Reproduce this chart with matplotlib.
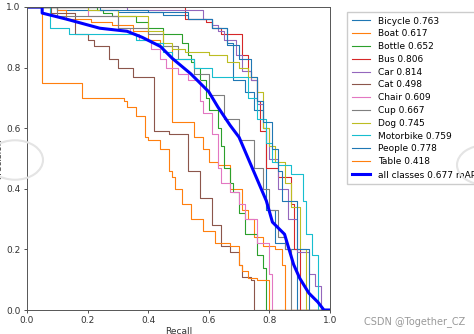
import matplotlib
matplotlib.use('Agg')
import matplotlib.pyplot as plt
from matplotlib.patches import Circle

names = ['Bicycle', 'Boat', 'Bottle', 'Bus', 'Car', 'Cat', 'Chair', 'Cup',
         'Dog', 'Motorbike', 'People', 'Table']
ap = [0.763, 0.617, 0.652, 0.806, 0.814, 0.498, 0.609, 0.667,
      0.745, 0.759, 0.778, 0.418]
map50 = 0.677

# points (recall, precision), last two points = drop to zero
bicycle_r = [0, 0.10, 0.30, 0.45, 0.53, 0.61, 0.66, 0.68, 0.72, 0.75, 0.78, 0.79, 0.82, 0.85, 0.89, 1.0]
bicycle_p = [1, 0.99, 0.985, 0.975, 0.96, 0.93, 0.88, 0.76, 0.72, 0.66, 0.60, 0.33, 0.22, 0.20, 0, 0]
boat_r = [0, 0.10, 0.13, 0.21, 0.28, 0.35, 0.40, 0.44, 0.48, 0.50, 0.55, 0.58, 0.60, 0.63, 0.67, 0.71, 0.73, 0.75, 0.78, 0.82, 0.84, 0.85, 1.0]
boat_p = [1, 0.99, 0.96, 0.95, 0.94, 0.92, 0.89, 0.87, 0.62, 0.62, 0.57, 0.53, 0.49, 0.48, 0.40, 0.33, 0.30, 0.24, 0.21, 0.20, 0.15, 0, 0]
bottle_r = [0, 0.23, 0.25, 0.28, 0.36, 0.40, 0.45, 0.48, 0.51, 0.53, 0.54, 0.55, 0.57, 0.59, 0.60, 0.63, 0.64, 0.65, 0.67, 0.68, 0.70, 0.72, 0.76, 0.78, 0.79, 1.0]
bottle_p = [1, 0.99, 0.98, 0.97, 0.95, 0.93, 0.91, 0.91, 0.88, 0.84, 0.82, 0.80, 0.76, 0.70, 0.66, 0.60, 0.54, 0.47, 0.42, 0.39, 0.32, 0.25, 0.18, 0.14, 0, 0]
bus_r = [0, 0.52, 0.59, 0.61, 0.64, 0.66, 0.71, 0.73, 0.74, 0.76, 0.77, 0.79, 0.83, 0.84, 0.87, 0.88, 0.90, 1.0]
bus_p = [1, 0.96, 0.95, 0.93, 0.91, 0.91, 0.84, 0.79, 0.76, 0.69, 0.59, 0.47, 0.44, 0.44, 0.35, 0.20, 0, 0]
car_r = [0, 0.33, 0.52, 0.58, 0.61, 0.63, 0.65, 0.69, 0.71, 0.74, 0.76, 0.78, 0.80, 0.83, 0.86, 0.89, 0.93, 0.95, 0.97, 1.0]
car_p = [1, 0.99, 0.99, 0.96, 0.94, 0.92, 0.89, 0.84, 0.79, 0.76, 0.68, 0.60, 0.50, 0.40, 0.30, 0.19, 0.12, 0.08, 0, 0]
cat_r = [0, 0.08, 0.16, 0.20, 0.22, 0.27, 0.30, 0.35, 0.39, 0.42, 0.47, 0.53, 0.53, 0.57, 0.61, 0.64, 0.67, 0.70, 0.71, 0.74, 0.75, 1.0]
cat_p = [1, 0.98, 0.91, 0.89, 0.87, 0.83, 0.80, 0.77, 0.77, 0.59, 0.58, 0.54, 0.46, 0.37, 0.28, 0.21, 0.19, 0.15, 0.11, 0.10, 0, 0]
chair_r = [0, 0.20, 0.30, 0.34, 0.37, 0.41, 0.44, 0.46, 0.50, 0.53, 0.57, 0.58, 0.61, 0.63, 0.64, 0.67, 0.70, 0.72, 0.76, 0.80, 0.81, 1.0]
chair_p = [1, 0.97, 0.93, 0.91, 0.89, 0.86, 0.83, 0.80, 0.78, 0.76, 0.69, 0.65, 0.58, 0.47, 0.42, 0.39, 0.35, 0.30, 0.22, 0.12, 0, 0]
cup_r = [0, 0.10, 0.30, 0.40, 0.45, 0.50, 0.55, 0.60, 0.65, 0.70, 0.75, 0.78, 0.80, 0.83, 0.85, 0.87, 1.0]
cup_p = [1, 0.97, 0.93, 0.91, 0.87, 0.83, 0.78, 0.71, 0.63, 0.56, 0.47, 0.40, 0.33, 0.24, 0.20, 0, 0]
dog_r = [0, 0.20, 0.30, 0.40, 0.45, 0.48, 0.52, 0.60, 0.66, 0.70, 0.73, 0.76, 0.78, 0.80, 0.82, 0.85, 0.87, 0.90, 0.92, 1.0]
dog_p = [1, 0.99, 0.97, 0.92, 0.88, 0.86, 0.85, 0.84, 0.82, 0.80, 0.77, 0.72, 0.60, 0.54, 0.49, 0.42, 0.34, 0.20, 0, 0]
motorbike_r = [0, 0.076, 0.14, 0.36, 0.41, 0.45, 0.48, 0.55, 0.61, 0.73, 0.76, 0.79, 0.81, 0.83, 0.87, 0.91, 0.92, 0.94, 0.96, 1.0]
motorbike_p = [1, 0.93, 0.91, 0.89, 0.88, 0.85, 0.83, 0.80, 0.77, 0.70, 0.63, 0.55, 0.49, 0.48, 0.45, 0.36, 0.25, 0.18, 0, 0]
people_r = [0, 0.24, 0.40, 0.53, 0.61, 0.66, 0.70, 0.74, 0.76, 0.78, 0.81, 0.83, 0.84, 0.89, 0.93, 1.0]
people_p = [1, 0.99, 0.985, 0.96, 0.93, 0.875, 0.83, 0.77, 0.69, 0.62, 0.53, 0.46, 0.36, 0.20, 0, 0]
table_r = [0, 0.05, 0.18, 0.32, 0.33, 0.36, 0.39, 0.40, 0.44, 0.47, 0.48, 0.49, 0.51, 0.54, 0.58, 0.62, 0.67, 0.70, 0.71, 0.73, 0.76, 0.80, 1.0]
table_p = [1, 0.75, 0.70, 0.69, 0.67, 0.64, 0.57, 0.56, 0.53, 0.46, 0.44, 0.40, 0.35, 0.30, 0.26, 0.22, 0.21, 0.15, 0.13, 0.105, 0.10, 0, 0]

mean_r = [0, 0.05, 0.05, 0.13, 0.24, 0.33, 0.38, 0.44, 0.48, 0.54, 0.60, 0.63, 0.67, 0.70, 0.73, 0.76,
          0.79, 0.81, 0.85, 0.88, 0.90, 0.93, 0.96, 0.98, 1.0]
mean_p = [1, 1, 0.98, 0.96, 0.93, 0.92, 0.90, 0.87, 0.83, 0.78, 0.72, 0.67, 0.61, 0.57, 0.50, 0.43,
          0.36, 0.29, 0.25, 0.15, 0.105, 0.056, 0.026, 0, 0]

curves = [(bicycle_r, bicycle_p), (boat_r, boat_p), (bottle_r, bottle_p), (bus_r, bus_p),
          (car_r, car_p), (cat_r, cat_p), (chair_r, chair_p), (cup_r, cup_p),
          (dog_r, dog_p), (motorbike_r, motorbike_p), (people_r, people_p), (table_r, table_p)]
colors = ['#1f77b4', '#ff7f0e', '#2ca02c', '#d62728', '#9467bd',
          '#8c564b', '#e377c2', '#7f7f7f', '#bcbd22', '#17becf']

W, H = 474, 334
fig = plt.figure(figsize=(W / 100, H / 100), dpi=100)
ax = fig.add_axes([27 / W, 24 / H, 303 / W, 303 / H])

for i, (r, p) in enumerate(curves):
    ax.plot(r, p, drawstyle='steps-post', linewidth=0.8, color=colors[i % 10],
            label=f'{names[i]} {ap[i]:.3f}')
ax.plot(mean_r, mean_p, linewidth=2.2, color='blue', label='all classes %.3f mAP@0.5' % map50)

ax.set_xlim(0, 1)
ax.set_ylim(0, 1)
ax.set_xticks([0, 0.2, 0.4, 0.6, 0.8, 1.0])
ax.set_yticks([0, 0.2, 0.4, 0.6, 0.8, 1.0])
ax.tick_params(labelsize=6.5, length=2.5, width=0.6, pad=2, colors='#333333')
for s in ax.spines.values():
    s.set_linewidth(0.7)
    s.set_color('#555555')
ax.set_xlabel('Recall', fontsize=6.5, labelpad=1, color='#333333')
ax.set_ylabel('Precision', fontsize=6.5, labelpad=2, color='#333333')

ax.legend(loc='upper left', bbox_to_anchor=(347 / W, 1 - 12 / H), bbox_transform=fig.transFigure,
          borderaxespad=0, fontsize=6.5, labelspacing=0.42, handlelength=2.0, handletextpad=0.9,
          borderpad=0.5, fancybox=False, edgecolor='#cccccc', framealpha=1)

# viewer overlay circles and watermark
fig.patches.append(Circle((15 / W, 1 - 160 / H), 28 / W, transform=fig.transFigure,
                          fill=False, edgecolor='#e4e4e4', linewidth=1.5))
fig.patches.append(Circle((485 / W, 1 - 165 / H), 28 / W, transform=fig.transFigure,
                          fill=False, edgecolor='#e4e4e4', linewidth=1.5))
fig.text(415 / W, 1 - 322 / H, 'CSDN @Together_CZ', fontsize=7, color='#999999',
         ha='center', va='center')

fig.savefig('out.png', dpi=100)
